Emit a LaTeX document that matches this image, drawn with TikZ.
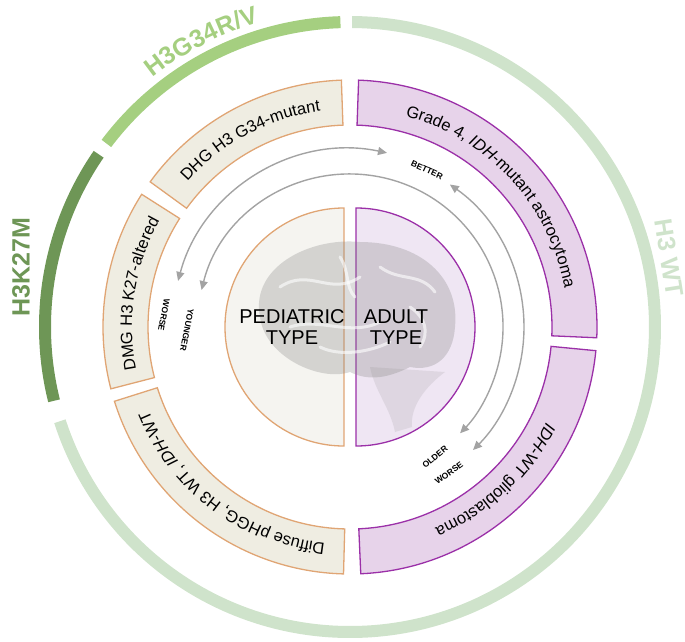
\documentclass[tikz,border=0pt]{standalone}
\usepackage{fontspec}
\setmainfont{Liberation Sans}
\usetikzlibrary{decorations.text,arrows.meta}
\definecolor{pedfill}{HTML}{EFEDE2}
\definecolor{pedline}{HTML}{E0A574}
\definecolor{adfill}{HTML}{E7D3EA}
\definecolor{adline}{HTML}{9B30A8}
\definecolor{adcirc}{HTML}{EFE6F3}
\definecolor{pedcirc}{HTML}{F5F4F0}
\definecolor{gA}{HTML}{A5CF80}
\definecolor{gB}{HTML}{6E9656}
\definecolor{gC}{HTML}{CFE3CB}
\definecolor{arr}{HTML}{A3A3A3}
\newcommand\AF{\fontsize{16.5}{17}\selectfont}
\newcommand\AI{\fontsize{16.5}{17}\selectfont\itshape}
\newcommand\Sect[3]{\path[#3] (#1:202) arc[start angle=#1,end angle=#2,radius=202] -- (#2:247) arc[start angle=#2,end angle=#1,radius=247] -- cycle;}
\newcommand\ArcText[3]{\path[decorate,decoration={text along path,text align=center,text={#3}}] (#1:218) arc[start angle=#1,end angle=#2,radius=218];}
\tikzset{
  ped/.style={fill=pedfill,draw=pedline,line width=1.3pt},
  adu/.style={fill=adfill,draw=adline,line width=1.3pt},
  ring/.style={line width=12pt},
  garr/.style={draw=arr,line width=1.4pt,{Triangle[length=9pt,width=8pt]}-{Triangle[length=9pt,width=8pt]}},
  small/.style={font=\fontsize{8.5}{9}\selectfont\bfseries},
  big/.style={font=\fontsize{20}{21}\selectfont,align=center},
  sulc/.style={white,opacity=0.6,line width=3pt,line cap=round},
}
\begin{document}
\begin{tikzpicture}[x=1pt,y=1pt]
\useasboundingbox (-350,-314) rectangle (335,327);
% outer ring
\draw[ring,gA] (143:305) arc[start angle=143,end angle=91.8,radius=305];
\draw[ring,gB] (194:305) arc[start angle=194,end angle=145.5,radius=305];
\draw[ring,gC] (89.6:305) arc[start angle=89.6,end angle=-162,radius=305];
\path[decorate,decoration={text along path,text align=center,text={|\fontsize{25}{26}\selectfont\bfseries\color{gA}|H3G34R/V}}] (143:318) arc[start angle=143,end angle=92,radius=318];
\node[font=\fontsize{25}{26}\selectfont\bfseries,text=gB,rotate=90] (k27) at (-329,60) {H3K27M};
\node[font=\fontsize{25}{26}\selectfont\bfseries,text=gC,rotate=-81] (wt) at (319,69) {H3 WT};
% sectors
\Sect{88}{-2.5}{adu}
\Sect{-5.5}{-87.5}{adu}
\Sect{268.5}{197.5}{ped}
\Sect{194.5}{147.5}{ped}
\Sect{144}{92}{ped}
\ArcText{88}{-2.5}{|\AF|Grade 4, |\AI|IDH|\AF|-mutant astrocytoma}
\ArcText{-5.5}{-87.5}{|\AI|IDH|\AF|-WT glioblastoma}
\ArcText{268.5}{197.5}{|\AF|Diffuse pHGG, H3 WT, |\AI|IDH|\AF|-WT}
\ArcText{194.5}{147.5}{|\AF|DMG H3 K27-altered}
\ArcText{144}{92}{|\AF|DHG H3 G34-mutant}
% center halves
\path[fill=pedcirc,draw=pedline,line width=1.3pt] (-6,119) arc[start angle=90,end angle=270,radius=119] -- cycle;
\path[fill=adcirc,draw=adline,line width=1.3pt] (6,119) arc[start angle=90,end angle=-90,radius=119] -- cycle;
% brain
\begin{scope}
\fill[gray,opacity=0.28] (-90,10) .. controls (-100,60) and (-40,90) .. (10,85)
  .. controls (70,85) and (110,50) .. (105,0)
  .. controls (103,-30) and (85,-45) .. (60,-40)
  .. controls (40,-50) and (20,-55) .. (0,-45)
  .. controls (-30,-55) and (-85,-30) .. (-90,10) -- cycle;
\fill[gray,opacity=0.15] (20,-40) .. controls (25,-65) and (40,-80) .. (45,-105) -- (62,-100) .. controls (60,-80) and (75,-60) .. (95,-45) -- cycle;
\draw[sulc] (-70,40) .. controls (-40,60) and (-20,30) .. (10,50);
\draw[sulc] (-10,70) .. controls (0,55) and (-5,40) .. (5,30);
\draw[sulc] (-60,0) .. controls (-30,10) and (0,-10) .. (30,5);
\draw[sulc] (30,60) .. controls (50,45) and (70,55) .. (85,35);
\draw[sulc] (-30,-20) .. controls (-10,-30) and (20,-25) .. (40,-15);
\draw[sulc] (60,20) .. controls (75,10) and (80,-5) .. (70,-20);
\end{scope}
\node[big] (ped) at (-58,0) {PEDIATRIC\\TYPE};
\node[big] (adu) at (46,0) {ADULT\\TYPE};
% arrows
\draw[garr] (165:178) arc[start angle=165,end angle=78,radius=178];
\draw[garr] (166:153) arc[start angle=166,end angle=-44,radius=153];
\draw[garr] (55:174) arc[start angle=55,end angle=-45,radius=174];
\node[small,rotate=-25] (better) at (77,157) {BETTER};
\node[small,rotate=-101] (worse1) at (-186,12) {WORSE};
\node[small,rotate=-101] (younger) at (-163,-3) {YOUNGER};
\node[small,rotate=39] (older) at (85,-130) {OLDER};
\node[small,rotate=36] (worse2) at (99,-146) {WORSE};
\end{tikzpicture}
\end{document}
